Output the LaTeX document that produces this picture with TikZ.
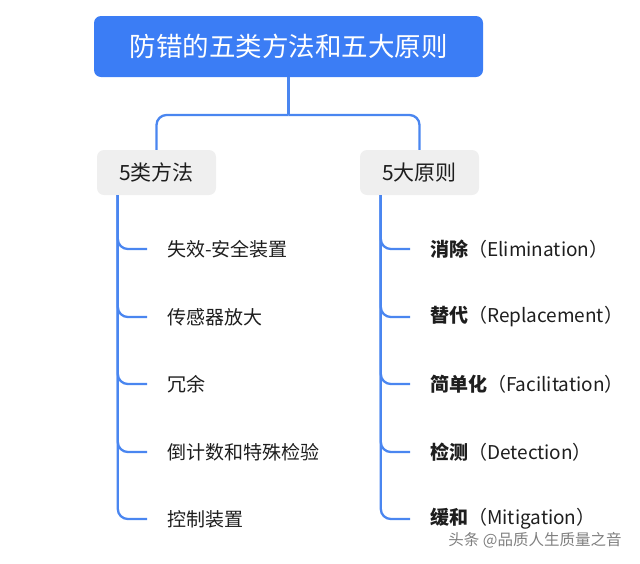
\documentclass[tikz,border=0pt]{standalone}
\usepackage{fontspec}
\setmainfont{Noto Sans CJK SC}
\usetikzlibrary{positioning}
\definecolor{titleblue}{RGB}{59,125,245}
\definecolor{linkblue}{RGB}{74,134,240}
\definecolor{headgray}{RGB}{239,239,239}
\definecolor{inkgray}{RGB}{30,30,30}
\tikzset{
  title box/.style={
    fill=titleblue,
    rounded corners=7pt,
    text=white,
    minimum width=389pt,
    minimum height=61pt,
    font=\fontsize{26.5}{30}\selectfont,
  },
  head box/.style={
    fill=headgray,
    rounded corners=7pt,
    text=inkgray,
    minimum width=119pt,
    minimum height=45pt,
    font=\fontsize{21}{24}\selectfont,
  },
  leaf/.style={
    anchor=west,
    inner sep=0pt,
    text=inkgray,
    font=\fontsize{19}{22}\selectfont,
  },
  link/.style={
    draw=linkblue,
    line width=2.3pt,
    rounded corners=10pt,
  }
}

\begin{document}
\begin{tikzpicture}[x=1pt, y=-1pt]
        \useasboundingbox (0,0) rectangle (640,563);

        \node [title box] (title) at (288.5,46.5) {防错的五类方法和五大原则};
        \node [head box] (methods) at (156.5,172.5) {5类方法};
        \node [head box] (rules) at (419.5,172.5) {5大原则};

        % five methods
        \node [leaf] (m1) at (167,249) {失效-安全装置};
        \node [leaf] (m2) at (167,317) {传感器放大};
        \node [leaf] (m3) at (167,384) {冗余};
        \node [leaf] (m4) at (167,452) {倒计数和特殊检验};
        \node [leaf] (m5) at (167,519) {控制装置};

        % five rules
        \node [leaf] (r1) at (430,249) {\textbf{消除}（Elimination）};
        \node [leaf] (r2) at (430,317) {\textbf{替代}（Replacement）};
        \node [leaf] (r3) at (430,384) {\textbf{简单化}（Facilitation）};
        \node [leaf] (r4) at (430,452) {\textbf{检测}（Detection）};
        \node [leaf] (r5) at (430,519) {\textbf{缓和}（Mitigation）};

        \coordinate (fork) at (288.5,115);
        \draw [link] (title.south) -- (fork);
        \draw [link] (fork) -| (methods.north);
        \draw [link] (fork) -| (rules.north);

        \foreach \i in {1,...,5} {
          \draw [link] ([xshift=21pt]methods.south west) |- ([xshift=-20pt]m\i.west);
          \draw [link] ([xshift=21pt]rules.south west) |- ([xshift=-20pt]r\i.west);
        }

        \node [text=gray, font=\fontsize{15.5}{18}\selectfont] (mark) at (535,540) {头条 @品质人生质量之音};
      \end{tikzpicture}
\end{document}
